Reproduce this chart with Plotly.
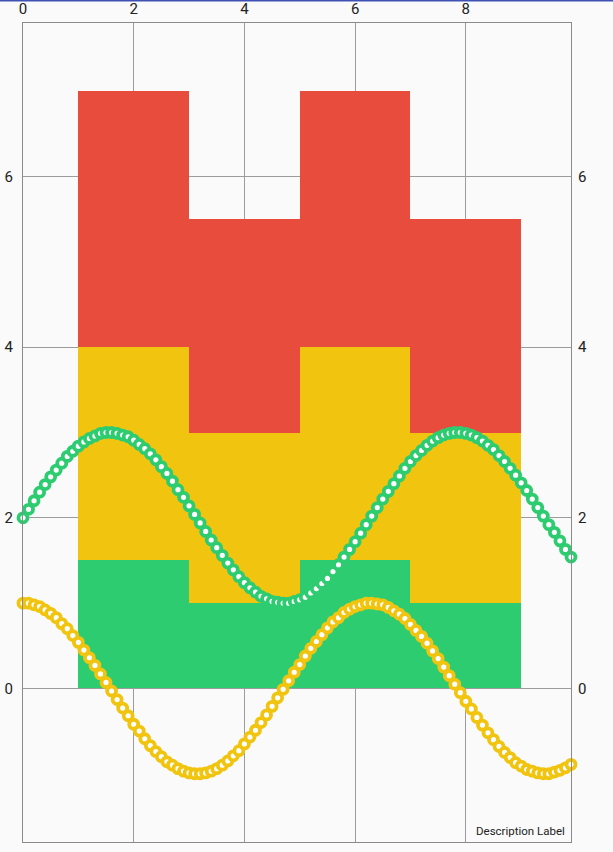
import plotly.graph_objects as go

# Barras apiladas (centros en x, alturas de cada tramo)
bar_x = [2, 4, 6, 8]
bar_green = [1.5, 1.0, 1.5, 1.0]
bar_yellow = [2.5, 2.0, 2.5, 2.0]
bar_red = [3.0, 2.5, 3.0, 2.5]

# Curvas de puntos
line_x = [
    0.0, 0.1, 0.2, 0.3, 0.4, 0.5, 0.6, 0.7, 0.8, 0.9,
    1.0, 1.1, 1.2, 1.3, 1.4, 1.5, 1.6, 1.7, 1.8, 1.9,
    2.0, 2.1, 2.2, 2.3, 2.4, 2.5, 2.6, 2.7, 2.8, 2.9,
    3.0, 3.1, 3.2, 3.3, 3.4, 3.5, 3.6, 3.7, 3.8, 3.9,
    4.0, 4.1, 4.2, 4.3, 4.4, 4.5, 4.6, 4.7, 4.8, 4.9,
    5.0, 5.1, 5.2, 5.3, 5.4, 5.5, 5.6, 5.7, 5.8, 5.9,
    6.0, 6.1, 6.2, 6.3, 6.4, 6.5, 6.6, 6.7, 6.8, 6.9,
    7.0, 7.1, 7.2, 7.3, 7.4, 7.5, 7.6, 7.7, 7.8, 7.9,
    8.0, 8.1, 8.2, 8.3, 8.4, 8.5, 8.6, 8.7, 8.8, 8.9,
    9.0, 9.1, 9.2, 9.3, 9.4, 9.5, 9.6, 9.7, 9.8, 9.9,
]
green_line = [
    2.00, 2.10, 2.20, 2.30, 2.39, 2.48, 2.56, 2.64, 2.72, 2.78,
    2.84, 2.89, 2.93, 2.96, 2.99, 3.00, 3.00, 2.99, 2.97, 2.95,
    2.91, 2.86, 2.81, 2.75, 2.68, 2.60, 2.52, 2.43, 2.33, 2.24,
    2.14, 2.04, 1.94, 1.84, 1.74, 1.65, 1.56, 1.47, 1.39, 1.31,
    1.24, 1.18, 1.13, 1.08, 1.05, 1.02, 1.01, 1.00, 1.00, 1.02,
    1.04, 1.07, 1.12, 1.17, 1.23, 1.29, 1.37, 1.45, 1.54, 1.63,
    1.72, 1.82, 1.92, 2.02, 2.12, 2.22, 2.31, 2.40, 2.49, 2.58,
    2.66, 2.73, 2.79, 2.85, 2.90, 2.94, 2.97, 2.99, 3.00, 3.00,
    2.99, 2.97, 2.94, 2.90, 2.85, 2.80, 2.73, 2.66, 2.58, 2.50,
    2.41, 2.32, 2.22, 2.12, 2.02, 1.92, 1.83, 1.73, 1.63, 1.54,
]
yellow_line = [
    1.00, 1.00, 0.98, 0.96, 0.92, 0.88, 0.83, 0.76, 0.70, 0.62,
    0.54, 0.45, 0.36, 0.27, 0.17, 0.07, -0.03, -0.13, -0.23, -0.32,
    -0.42, -0.50, -0.59, -0.67, -0.74, -0.80, -0.86, -0.90, -0.94, -0.97,
    -0.99, -1.00, -1.00, -0.99, -0.97, -0.94, -0.90, -0.85, -0.79, -0.73,
    -0.65, -0.57, -0.49, -0.40, -0.31, -0.21, -0.11, -0.01, 0.09, 0.19,
    0.28, 0.38, 0.47, 0.55, 0.63, 0.71, 0.78, 0.83, 0.89, 0.93,
    0.96, 0.98, 1.00, 1.00, 0.99, 0.98, 0.95, 0.91, 0.87, 0.82,
    0.75, 0.68, 0.61, 0.53, 0.44, 0.35, 0.25, 0.15, 0.05, -0.05,
    -0.15, -0.24, -0.34, -0.43, -0.52, -0.60, -0.68, -0.75, -0.81, -0.87,
    -0.91, -0.95, -0.97, -0.99, -1.00, -1.00, -0.98, -0.96, -0.93, -0.89,
]

GREEN = "#2ECC71"
YELLOW = "#F1C40F"
RED = "#E74C3C"
GRID = "#9c9c9c"
AXIS = "#8a8a8a"
TXT = "#222222"

fig = go.Figure()

for vals, col in [(bar_green, GREEN), (bar_yellow, YELLOW), (bar_red, RED)]:
    fig.add_trace(go.Bar(x=bar_x, y=vals, width=2, marker=dict(color=col, line=dict(width=0)),
                         hoverinfo="skip"))

for vals, col in [(yellow_line, YELLOW), (green_line, GREEN)]:
    fig.add_trace(go.Scatter(
        x=line_x, y=vals, mode="markers", cliponaxis=False,
        marker=dict(size=9, color="white", line=dict(color=col, width=3.8)),
    ))

# eje derecho solo para las etiquetas
fig.add_trace(go.Scatter(x=[None], y=[None], yaxis="y2", showlegend=False))

fig.update_layout(
    width=613, height=852,
    margin=dict(l=23, r=42, t=23, b=10),
    barmode="stack", bargap=0,
    showlegend=False,
    paper_bgcolor="#FAFAFA", plot_bgcolor="#FAFAFA",
    font=dict(family="Roboto", size=15, color=TXT),
    xaxis=dict(range=[0, 9.9], dtick=2, tick0=0, side="top", showgrid=True,
               gridcolor=GRID, gridwidth=1, zeroline=False, showline=True,
               linecolor=AXIS, linewidth=1, mirror=True, ticks="",
               ticklabelstandoff=2, automargin=False),
    yaxis=dict(range=[-1.8, 7.8], dtick=2, tick0=0, showgrid=True,
               gridcolor=GRID, gridwidth=1, zeroline=False, showline=True,
               linecolor=AXIS, linewidth=1, mirror=True, ticks="",
               ticklabelstandoff=6, automargin=False),
    yaxis2=dict(range=[-1.8, 7.8], dtick=2, tick0=0, overlaying="y", side="right",
                showgrid=False, zeroline=False, showline=False, ticks="",
                ticklabelstandoff=6, automargin=False),
    annotations=[dict(text="Description Label", x=1, y=0, xref="paper", yref="paper",
                      xanchor="right", yanchor="bottom", xshift=-4, yshift=2,
                      showarrow=False, font=dict(size=11.5, color=TXT))],
    shapes=[dict(type="line", xref="paper", yref="paper", x0=-0.05, x1=1.1,
                 y0=1 + 22.5 / 819, y1=1 + 22.5 / 819,
                 line=dict(color="#3F51B5", width=2))],
)

# quitar el margen por defecto del body para que el gráfico empiece en (0, 0)
fig.write_html("out.html", config={"displayModeBar": False},
               post_script="document.body.style.margin='0';")
